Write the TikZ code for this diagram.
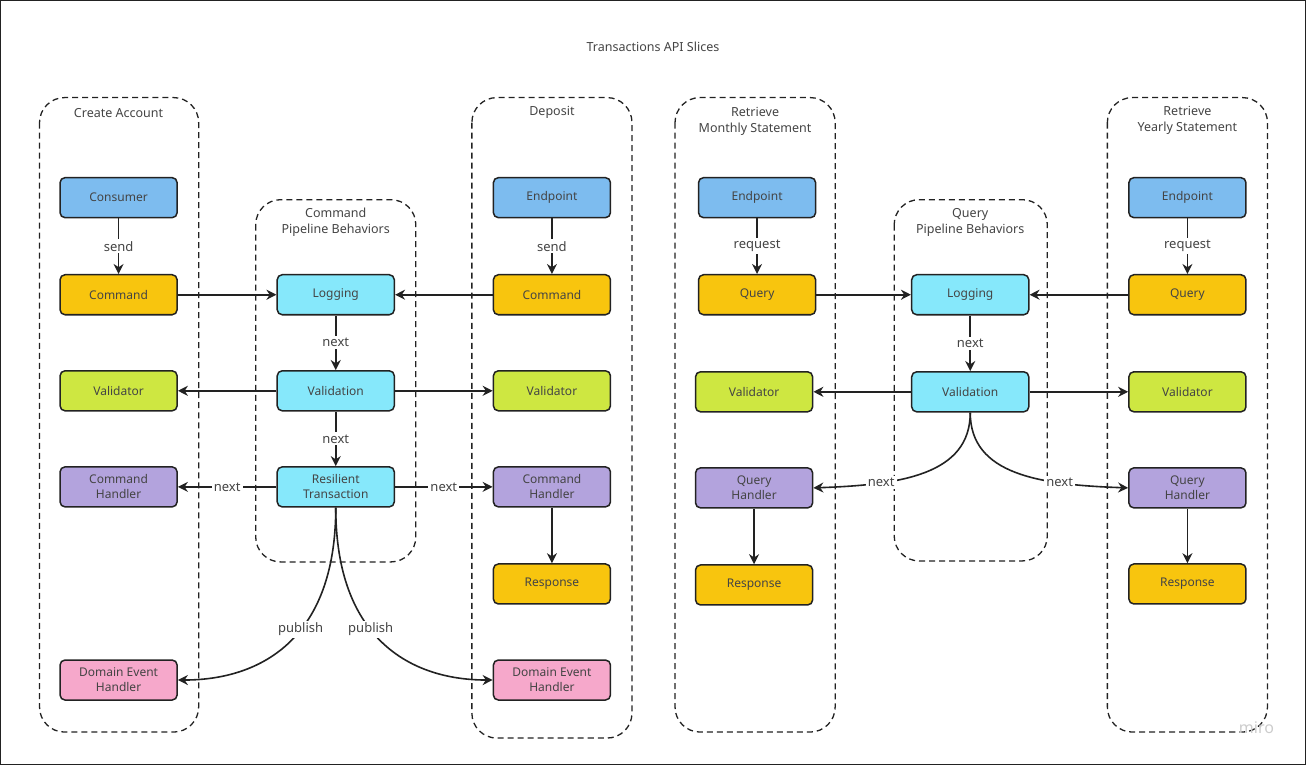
\documentclass[tikz,border=0pt]{standalone}
\usepackage{fontspec}
\setmainfont{Noto Sans}
\usetikzlibrary{arrows.meta}
\definecolor{cblue}{HTML}{7DBCEF}
\definecolor{cyel}{HTML}{F8C50E}
\definecolor{clime}{HTML}{CEE741}
\definecolor{cpur}{HTML}{B3A3DD}
\definecolor{ccyan}{HTML}{86E8FB}
\definecolor{cpink}{HTML}{F6A8CB}
\definecolor{ink}{HTML}{222222}
\definecolor{txt}{HTML}{444444}
\begin{document}
\begin{tikzpicture}[x=1pt,y=-1pt,
  box/.style={draw=ink,line width=1.5pt,rounded corners=5pt,minimum width=117pt,minimum height=40pt,align=center,font=\fontsize{12}{15}\selectfont,text=txt,inner sep=1pt},
  grp/.style={draw=ink,line width=1.3pt,dash pattern=on 6pt off 4pt,rounded corners=25pt},
  glab/.style={font=\fontsize{12.5}{16}\selectfont,text=txt,align=center},
  ar/.style={draw=ink,line width=1.6pt,-{Stealth[length=10pt,width=10pt]}},
  lab/.style={fill=white,font=\fontsize{13}{15}\selectfont,text=txt,inner sep=2pt}]
\draw[ink,line width=1pt] (1,1) rectangle (1305,764);
\node[glab] (title) at (653,47) {Transactions API Slices};
% groups
\draw[grp] (40,98) rectangle (199,732);
\node[glab] (g1) at (119,113) {Create Account};
\draw[grp] (256,200) rectangle (416,562);
\node[glab] (g2) at (336,223) {Command\\Pipeline Behaviors};
\draw[grp] (472,98) rectangle (632,738);
\node[glab] (g3) at (552,113) {Deposit};
\draw[grp] (675,98) rectangle (835,732);
\node[glab] (g4) at (755,122) {Retrieve\\Monthly Statement};
\draw[grp] (894,200) rectangle (1047,561);
\node[glab] (g5) at (970,223) {Query\\Pipeline Behaviors};
\draw[grp] (1107,98) rectangle (1267,732);
\node[glab] (g6) at (1187,121) {Retrieve\\Yearly Statement};
% create account
\node[box,fill=cblue] (a1) at (119,198) {Consumer};
\node[box,fill=cyel] (a2) at (119,295) {Command};
\node[box,fill=clime] (a3) at (119,391) {Validator};
\node[box,fill=cpur] (a4) at (119,487) {Command\\Handler};
\node[box,fill=cpink] (a5) at (119,680) {Domain Event\\Handler};
% command pipeline
\node[box,fill=ccyan] (p1) at (336,295) {Logging};
\node[box,fill=ccyan] (p2) at (336,391) {Validation};
\node[box,fill=ccyan] (p3) at (336,487) {Resilient\\Transaction};
% deposit
\node[box,fill=cblue] (d1) at (552,198) {Endpoint};
\node[box,fill=cyel] (d2) at (552,295) {Command};
\node[box,fill=clime] (d3) at (552,391) {Validator};
\node[box,fill=cpur] (d4) at (552,487) {Command\\Handler};
\node[box,fill=cyel] (d5) at (552,584) {Response};
\node[box,fill=cpink] (d6) at (552,680) {Domain Event\\Handler};
% monthly
\node[box,fill=cblue] (m1) at (757,198) {Endpoint};
\node[box,fill=cyel] (m2) at (757,295) {Query};
\node[box,fill=clime] (m3) at (754,392) {Validator};
\node[box,fill=cpur] (m4) at (754,488) {Query\\Handler};
\node[box,fill=cyel] (m5) at (754,585) {Response};
% query pipeline
\node[box,fill=ccyan] (q1) at (970,295) {Logging};
\node[box,fill=ccyan] (q2) at (970,392) {Validation};
% yearly
\node[box,fill=cblue] (y1) at (1187,198) {Endpoint};
\node[box,fill=cyel] (y2) at (1187,295) {Query};
\node[box,fill=clime] (y3) at (1187,392) {Validator};
\node[box,fill=cpur] (y4) at (1187,488) {Query\\Handler};
\node[box,fill=cyel] (y5) at (1187,584) {Response};
% edges command side
\draw[ar] (a1) -- node[lab]{send} (a2);
\draw[ar] (a2) -- (p1);
\draw[ar] (d2) -- (p1);
\draw[ar] (p1) -- node[lab]{next} (p2);
\draw[ar] (p2) -- (a3);
\draw[ar] (p2) -- (d3);
\draw[ar] (p2) -- node[lab]{next} (p3);
\draw[ar] (p3) -- node[lab,pos=0.5]{next} (a4);
\draw[ar] (p3) -- node[lab,pos=0.5]{next} (d4);
\draw[ar] (d1) -- node[lab]{send} (d2);
\draw[ar] (d4) -- (d5);
\draw[ar] (p3.south) .. controls (336,640) and (260,680) .. node[lab,pos=0.42]{publish} (a5.east);
\draw[ar] (p3.south) .. controls (336,640) and (412,680) .. node[lab,pos=0.42]{publish} (d6.west);
% edges query side
\draw[ar] (m1) -- node[lab]{request} (m2);
\draw[ar] (m2) -- (q1);
\draw[ar] (y2) -- (q1);
\draw[ar] (y1) -- node[lab]{request} (y2);
\draw[ar] (q1) -- node[lab]{next} (q2);
\draw[ar] (q2) -- (m3);
\draw[ar] (q2) -- (y3);
\draw[ar] (q2.south) .. controls (970,475) and (900,485) .. node[lab,pos=0.72]{next} (m4.east);
\draw[ar] (q2.south) .. controls (970,475) and (1040,485) .. node[lab,pos=0.72]{next} (y4.west);
\draw[ar] (m4) -- (m5);
\draw[ar] (y4) -- (y5);
\node[text=gray!40,font=\fontsize{16}{18}\selectfont\bfseries] (miro) at (1256,728) {miro};
\end{tikzpicture}
\end{document}
